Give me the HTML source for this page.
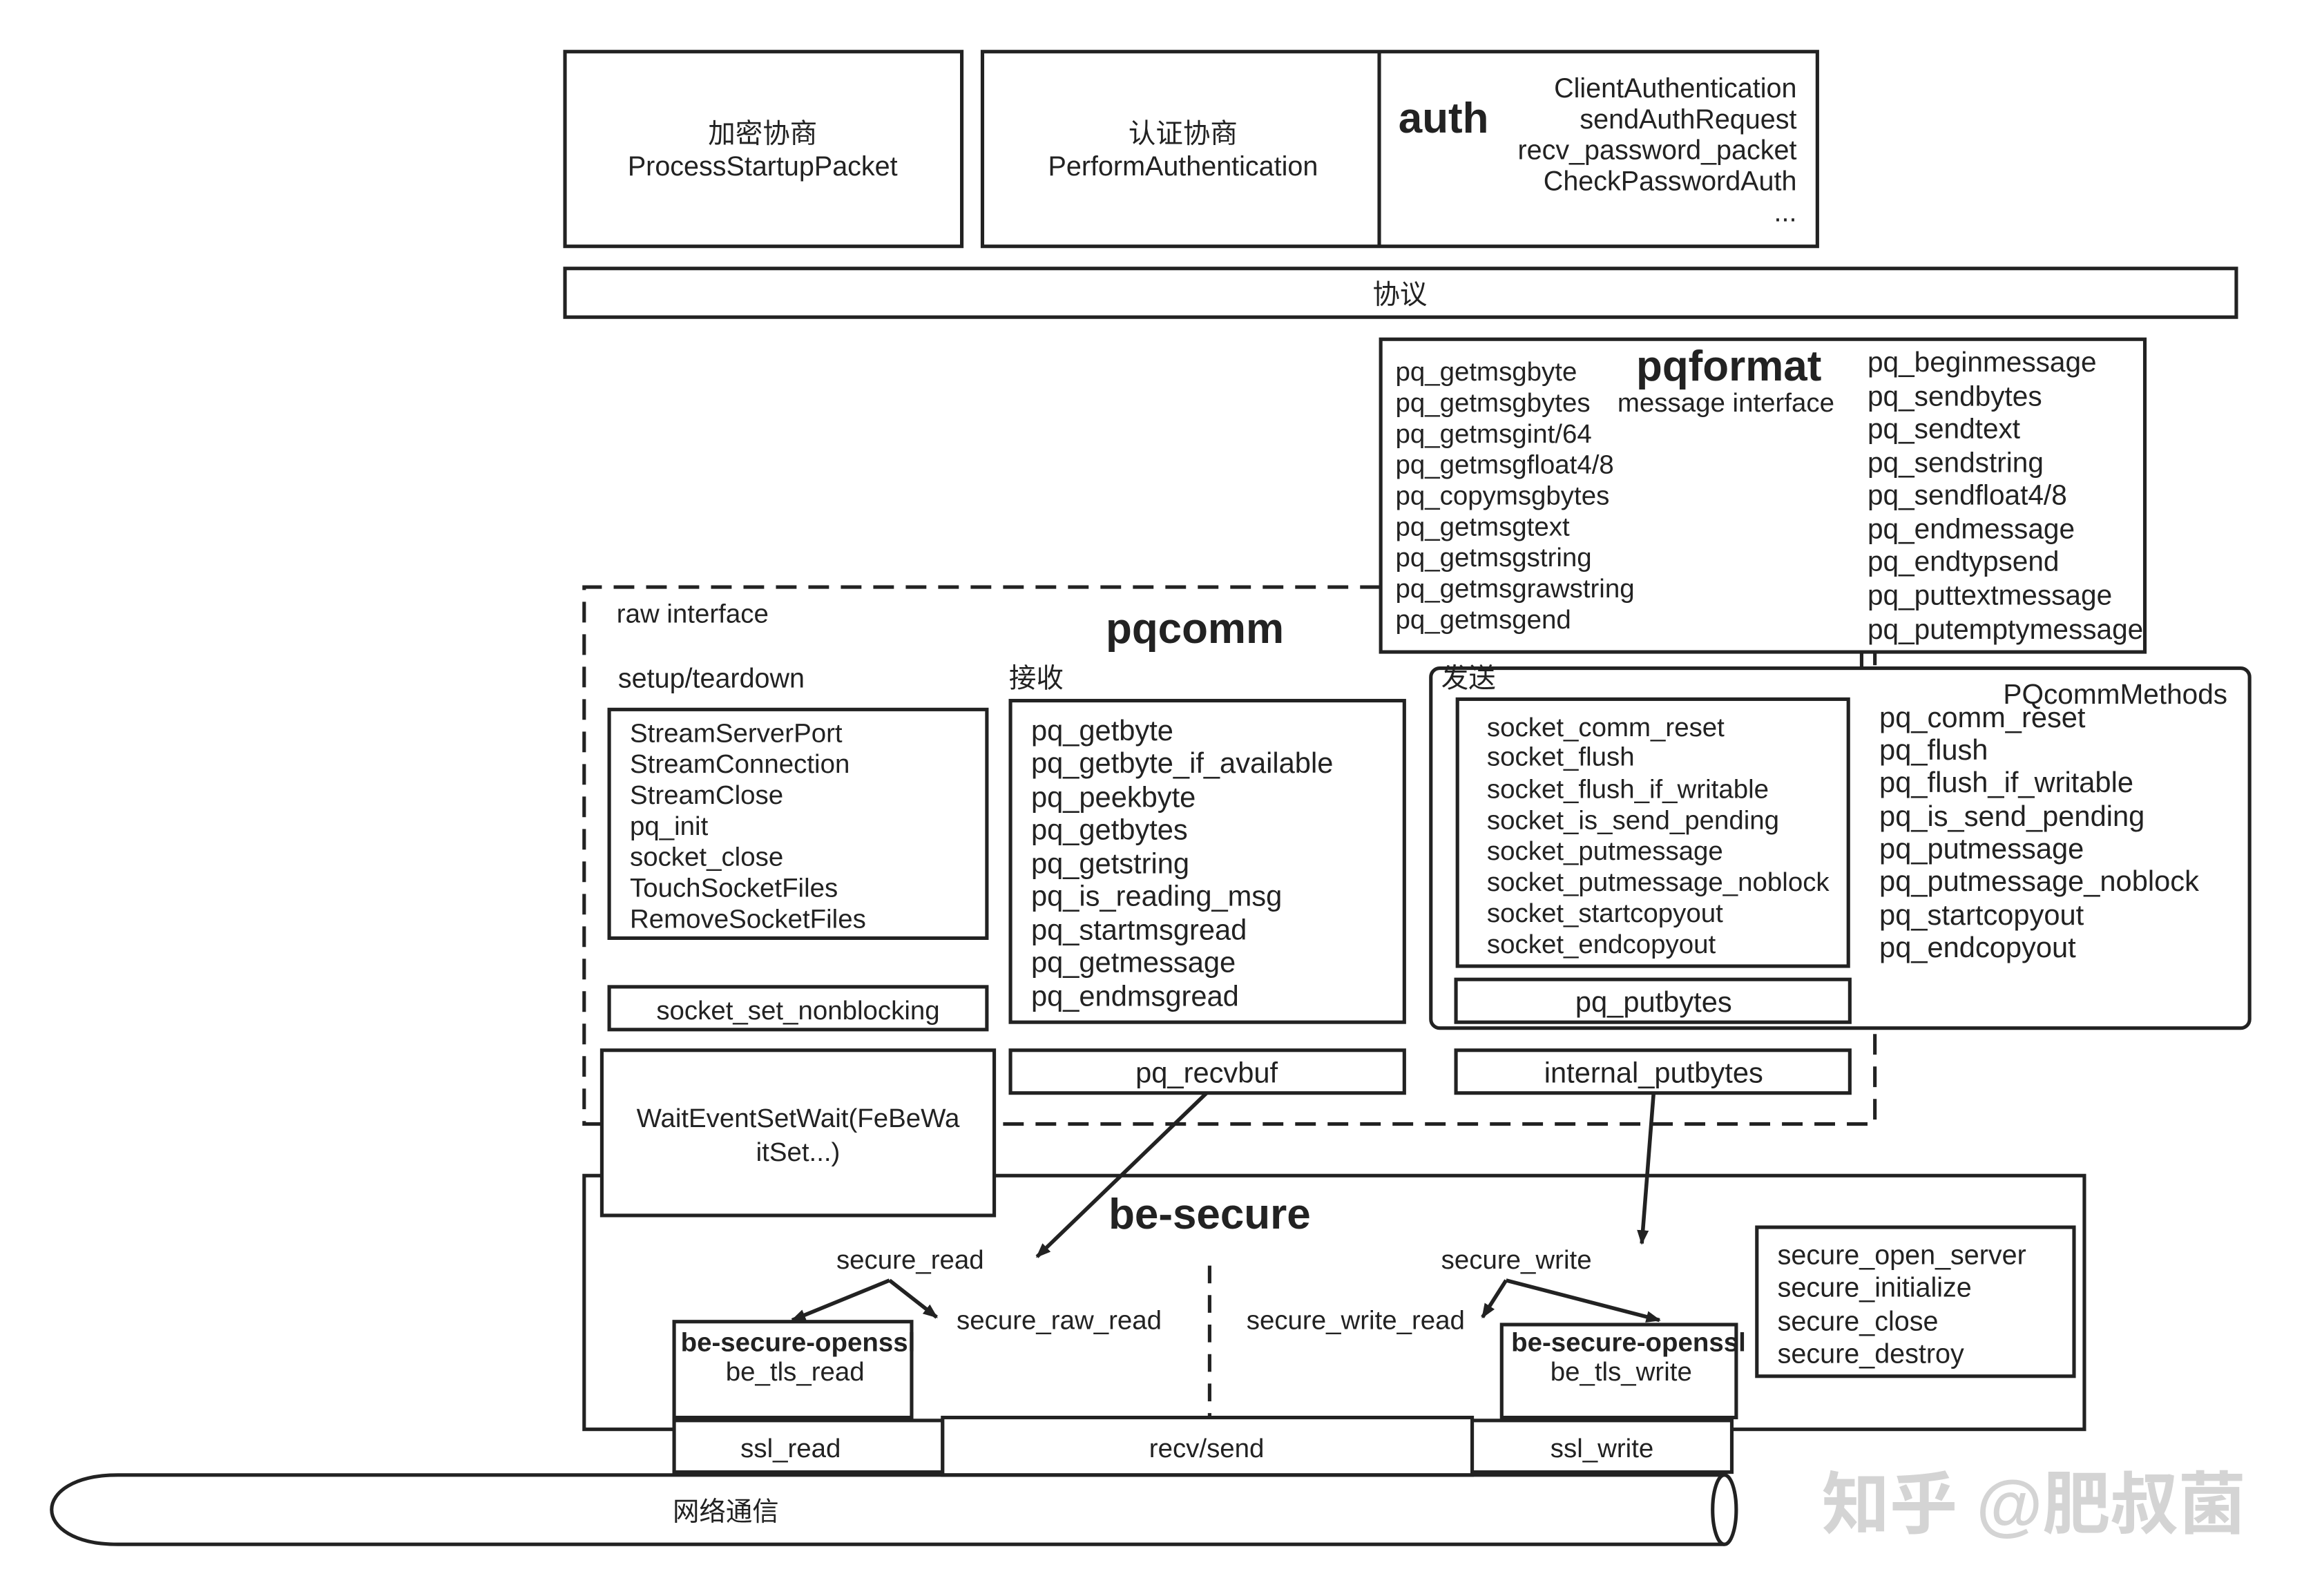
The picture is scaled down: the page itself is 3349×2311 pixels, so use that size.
<!DOCTYPE html>
<html><head><meta charset="utf-8"><style>
html,body{margin:0;padding:0;background:#fff;}
svg{display:block;}
text{font-family:"Liberation Sans","Noto Sans CJK SC",sans-serif;fill:#222;}
.b{font-weight:bold;}
</style></head><body>
<svg width="3349" height="2311" viewBox="0 0 1568 1082" preserveAspectRatio="none" xmlns="http://www.w3.org/2000/svg">
<defs><marker id="ar" markerWidth="10" markerHeight="8" refX="9" refY="4" orient="auto" markerUnits="userSpaceOnUse" viewBox="0 0 10 8"><path d="M0,0 L10,4 L0,8 z" fill="#222"/></marker></defs>
<g fill="none" stroke="#222" stroke-width="2.4">
<rect x="383" y="35" width="269" height="132"/>
<rect x="666" y="35" width="566" height="132"/>
<line x1="935" y1="35" x2="935" y2="167"/>
<rect x="383" y="182" width="1133" height="33"/>
<path d="M936,398 H396 V762 H1271 V442" stroke-dasharray="14,8"/>
<rect x="936" y="230" width="518" height="212" fill="#fff"/>
<rect x="413" y="481" width="256" height="155"/>
<rect x="413" y="669" width="256" height="29"/>
<rect x="685" y="475" width="267" height="218"/>
<rect x="685" y="712" width="267" height="29"/>
<rect x="970" y="453" width="555" height="244" rx="6" fill="#fff"/>
<line x1="1262" y1="442" x2="1262" y2="453"/>
<rect x="988" y="474" width="265" height="181"/>
<rect x="987" y="664" width="267" height="29"/>
<rect x="987" y="712" width="267" height="29"/>
<rect x="396" y="797" width="1017" height="172"/>
<rect x="408" y="712" width="266" height="112" fill="#fff"/>
<rect x="1191" y="832" width="215" height="101"/>
<rect x="457" y="896" width="161" height="65" fill="#fff"/>
<rect x="1018" y="898" width="159" height="63" fill="#fff"/>
<line x1="820" y1="858" x2="820" y2="960" stroke-dasharray="12,8"/>
<rect x="457" y="963" width="182" height="35" fill="#fff"/>
<rect x="639" y="961" width="359" height="39" fill="#fff"/>
<rect x="998" y="963" width="176" height="35" fill="#fff"/>
<path d="M1169,1000 H80 C20,1000 20,1047 80,1047 H1169"/>
<ellipse cx="1169" cy="1023.5" rx="8" ry="23.5"/>
<g marker-end="url(#ar)" stroke-width="2.6">
<line x1="818" y1="741" x2="703" y2="852"/>
<line x1="1121" y1="741" x2="1113" y2="843"/>
<line x1="603" y1="868" x2="537" y2="895"/>
<line x1="603" y1="868" x2="635" y2="893"/>
<line x1="1021" y1="868" x2="1005" y2="893"/>
<line x1="1021" y1="868" x2="1125" y2="895"/>
</g>
</g>
<g font-size="18.5" text-anchor="middle">
<text x="517" y="97">加密协商</text><text x="517" y="119">ProcessStartupPacket</text>
<text x="802" y="97">认证协商</text><text x="802" y="119">PerformAuthentication</text>
<text x="949" y="206">协议</text>
</g>
<g font-size="18" text-anchor="middle">
<text x="541" y="691">socket_set_nonblocking</text>
<text x="541" y="764">WaitEventSetWait(FeBeWa</text><text x="541" y="787">itSet...)</text>
<text x="818" y="734" font-size="19.5">pq_recvbuf</text>
<text x="1121" y="686" font-size="19.5">pq_putbytes</text>
<text x="1121" y="734" font-size="19.5">internal_putbytes</text>
<text x="617" y="860">secure_read</text><text x="1028" y="860">secure_write</text>
<text x="718" y="901">secure_raw_read</text><text x="919" y="901">secure_write_read</text>
<text x="541" y="916" class="b">be-secure-openssl</text><text x="539" y="936">be_tls_read</text>
<text x="1104" y="916" class="b">be-secure-openssl</text><text x="1099" y="936">be_tls_write</text>
<text x="536" y="988">ssl_read</text><text x="818" y="988">recv/send</text><text x="1086" y="988">ssl_write</text>
<text x="820" y="833" font-size="29" class="b">be-secure</text>
<text x="810" y="436" font-size="29" class="b">pqcomm</text>
<text x="1172" y="258" font-size="29" class="b">pqformat</text>
<text x="1170" y="279">message interface</text>
</g>
<text x="492" y="1031" font-size="18" text-anchor="middle">网络通信</text>
<text x="948" y="90" font-size="29" class="b">auth</text>
<g font-size="18.5" text-anchor="end">
<text x="1218" y="66">ClientAuthentication</text><text x="1218" y="87">sendAuthRequest</text>
<text x="1218" y="108">recv_password_packet</text><text x="1218" y="129">CheckPasswordAuth</text>
<text x="1218" y="150">...</text>
<text x="1510" y="477" font-size="19">PQcommMethods</text>
</g>
<g font-size="18">
<text x="946" y="258">pq_getmsgbyte</text><text x="946" y="279">pq_getmsgbytes</text><text x="946" y="300">pq_getmsgint/64</text>
<text x="946" y="321">pq_getmsgfloat4/8</text><text x="946" y="342">pq_copymsgbytes</text><text x="946" y="363">pq_getmsgtext</text>
<text x="946" y="384">pq_getmsgstring</text><text x="946" y="405">pq_getmsgrawstring</text><text x="946" y="426">pq_getmsgend</text>
</g>
<g font-size="19">
<text x="1266" y="252">pq_beginmessage</text><text x="1266" y="275">pq_sendbytes</text><text x="1266" y="297">pq_sendtext</text>
<text x="1266" y="320">pq_sendstring</text><text x="1266" y="342">pq_sendfloat4/8</text><text x="1266" y="365">pq_endmessage</text>
<text x="1266" y="387">pq_endtypsend</text><text x="1266" y="410">pq_puttextmessage</text><text x="1266" y="433">pq_putemptymessage</text>
</g>
<g font-size="18">
<text x="418" y="422">raw interface</text>
<text x="419" y="466" font-size="18.5">setup/teardown</text>
<text x="684" y="466" font-size="18.5">接收</text>
<text x="977" y="466" font-size="18.5">发送</text>
<text x="427" y="503">StreamServerPort</text><text x="427" y="524">StreamConnection</text><text x="427" y="545">StreamClose</text>
<text x="427" y="566">pq_init</text><text x="427" y="587">socket_close</text><text x="427" y="608">TouchSocketFiles</text>
<text x="427" y="629">RemoveSocketFiles</text>
<text x="1008" y="499">socket_comm_reset</text><text x="1008" y="519">socket_flush</text><text x="1008" y="541">socket_flush_if_writable</text>
<text x="1008" y="562">socket_is_send_pending</text><text x="1008" y="583">socket_putmessage</text><text x="1008" y="604">socket_putmessage_noblock</text>
<text x="1008" y="625">socket_startcopyout</text><text x="1008" y="646">socket_endcopyout</text>
<text x="1205" y="857" font-size="18.5">secure_open_server</text><text x="1205" y="879" font-size="18.5">secure_initialize</text>
<text x="1205" y="902" font-size="18.5">secure_close</text><text x="1205" y="924" font-size="18.5">secure_destroy</text>
</g>
<g font-size="19.5">
<text x="699" y="502">pq_getbyte</text><text x="699" y="524">pq_getbyte_if_available</text><text x="699" y="547">pq_peekbyte</text>
<text x="699" y="569">pq_getbytes</text><text x="699" y="592">pq_getstring</text><text x="699" y="614">pq_is_reading_msg</text>
<text x="699" y="637">pq_startmsgread</text><text x="699" y="659">pq_getmessage</text><text x="699" y="682">pq_endmsgread</text>
<text x="1274" y="493">pq_comm_reset</text><text x="1274" y="515">pq_flush</text><text x="1274" y="537">pq_flush_if_writable</text>
<text x="1274" y="560">pq_is_send_pending</text><text x="1274" y="582">pq_putmessage</text><text x="1274" y="604">pq_putmessage_noblock</text>
<text x="1274" y="627">pq_startcopyout</text><text x="1274" y="649">pq_endcopyout</text>
</g>
<text x="1235" y="1036" font-size="46" style="fill:#d4d4d4" class="b">知乎 @肥叔菌</text>
</svg>
</body></html>
